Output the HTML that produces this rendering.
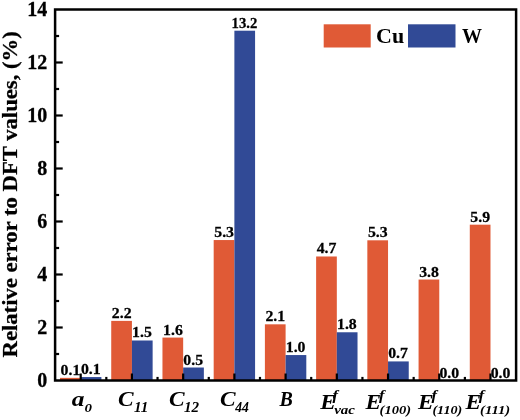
<!DOCTYPE html><html><head><meta charset="utf-8"><title>Relative error to DFT values</title>
<style>html,body{margin:0;padding:0;background:#fff}svg{display:block}text{font-family:"Liberation Serif","Times New Roman",serif;font-weight:bold;fill:#000}.v{font-size:14px;text-anchor:middle;stroke:#000;stroke-width:.25px}.yt{font-size:20px;text-anchor:end;stroke:#000;stroke-width:.3px}.xl{font-size:20px;font-style:italic}.sb{font-size:13px;font-style:italic}.sp{font-size:15px;font-style:italic}.lg{font-size:20px}.ti{font-size:20px;stroke:#000;stroke-width:.25px}.sd{font-size:14px;font-style:italic}</style></head><body>
<svg width="520" height="420" viewBox="0 0 520 420">
<rect x="0" y="0" width="520" height="420" fill="#fff"/>
<rect x="60.01" y="377.85" width="20.70" height="2.65" fill="#e05a36"/>
<rect x="80.71" y="377.06" width="20.70" height="3.45" fill="#314a96"/>
<rect x="111.23" y="320.88" width="20.70" height="59.62" fill="#e05a36"/>
<rect x="131.93" y="340.49" width="20.70" height="40.02" fill="#314a96"/>
<rect x="162.46" y="337.57" width="20.70" height="42.93" fill="#e05a36"/>
<rect x="183.16" y="367.51" width="20.70" height="12.98" fill="#314a96"/>
<rect x="213.68" y="240.05" width="20.70" height="140.45" fill="#e05a36"/>
<rect x="234.38" y="30.70" width="20.70" height="349.80" fill="#314a96"/>
<rect x="264.90" y="324.32" width="20.70" height="56.18" fill="#e05a36"/>
<rect x="285.60" y="355.06" width="20.70" height="25.44" fill="#314a96"/>
<rect x="316.12" y="256.48" width="20.70" height="124.02" fill="#e05a36"/>
<rect x="336.82" y="332.27" width="20.70" height="48.23" fill="#314a96"/>
<rect x="367.34" y="240.31" width="20.70" height="140.19" fill="#e05a36"/>
<rect x="388.04" y="361.42" width="20.70" height="19.08" fill="#314a96"/>
<rect x="418.57" y="279.53" width="20.70" height="100.97" fill="#e05a36"/>
<rect x="469.79" y="224.68" width="20.70" height="155.82" fill="#e05a36"/>
<text class="v" transform="translate(70.46,374.85) scale(1.13,1)">0.1</text>
<text class="v" transform="translate(90.76,374.06) scale(1.13,1)">0.1</text>
<text class="v" transform="translate(121.68,317.88) scale(1.13,1)">2.2</text>
<text class="v" transform="translate(141.98,337.49) scale(1.13,1)">1.5</text>
<text class="v" transform="translate(172.91,334.57) scale(1.13,1)">1.6</text>
<text class="v" transform="translate(193.21,364.51) scale(1.13,1)">0.5</text>
<text class="v" transform="translate(224.13,237.05) scale(1.13,1)">5.3</text>
<text class="v" transform="translate(244.43,28.00) scale(1.05,1)">13.2</text>
<text class="v" transform="translate(275.35,321.32) scale(1.13,1)">2.1</text>
<text class="v" transform="translate(295.65,352.06) scale(1.13,1)">1.0</text>
<text class="v" transform="translate(326.57,253.48) scale(1.13,1)">4.7</text>
<text class="v" transform="translate(346.87,329.27) scale(1.13,1)">1.8</text>
<text class="v" transform="translate(377.79,237.31) scale(1.13,1)">5.3</text>
<text class="v" transform="translate(398.09,358.42) scale(1.13,1)">0.7</text>
<text class="v" transform="translate(429.02,276.53) scale(1.13,1)">3.8</text>
<text class="v" transform="translate(449.32,377.50) scale(1.13,1)">0.0</text>
<text class="v" transform="translate(480.24,221.68) scale(1.13,1)">5.9</text>
<text class="v" transform="translate(500.54,377.50) scale(1.13,1)">0.0</text>
<rect x="55.10" y="9.50" width="461.00" height="371.00" fill="none" stroke="#000" stroke-width="2.5"/>
<text class="yt" x="47.30" y="386.90">0</text>
<line x1="55.10" y1="354.00" x2="59.10" y2="354.00" stroke="#000" stroke-width="2.2"/>
<line x1="55.10" y1="327.50" x2="62.70" y2="327.50" stroke="#000" stroke-width="2.2"/>
<text class="yt" x="47.30" y="333.90">2</text>
<line x1="55.10" y1="301.00" x2="59.10" y2="301.00" stroke="#000" stroke-width="2.2"/>
<line x1="55.10" y1="274.50" x2="62.70" y2="274.50" stroke="#000" stroke-width="2.2"/>
<text class="yt" x="47.30" y="280.90">4</text>
<line x1="55.10" y1="248.00" x2="59.10" y2="248.00" stroke="#000" stroke-width="2.2"/>
<line x1="55.10" y1="221.50" x2="62.70" y2="221.50" stroke="#000" stroke-width="2.2"/>
<text class="yt" x="47.30" y="227.90">6</text>
<line x1="55.10" y1="195.00" x2="59.10" y2="195.00" stroke="#000" stroke-width="2.2"/>
<line x1="55.10" y1="168.50" x2="62.70" y2="168.50" stroke="#000" stroke-width="2.2"/>
<text class="yt" x="47.30" y="174.90">8</text>
<line x1="55.10" y1="142.00" x2="59.10" y2="142.00" stroke="#000" stroke-width="2.2"/>
<line x1="55.10" y1="115.50" x2="62.70" y2="115.50" stroke="#000" stroke-width="2.2"/>
<text class="yt" x="47.30" y="121.90">10</text>
<line x1="55.10" y1="89.00" x2="59.10" y2="89.00" stroke="#000" stroke-width="2.2"/>
<line x1="55.10" y1="62.50" x2="62.70" y2="62.50" stroke="#000" stroke-width="2.2"/>
<text class="yt" x="47.30" y="68.90">12</text>
<line x1="55.10" y1="36.00" x2="59.10" y2="36.00" stroke="#000" stroke-width="2.2"/>
<text class="yt" x="47.30" y="15.90">14</text>
<line x1="80.71" y1="380.50" x2="80.71" y2="373.50" stroke="#000" stroke-width="2.2"/>
<line x1="131.93" y1="380.50" x2="131.93" y2="373.50" stroke="#000" stroke-width="2.2"/>
<line x1="106.32" y1="380.50" x2="106.32" y2="376.90" stroke="#000" stroke-width="2.2"/>
<line x1="183.16" y1="380.50" x2="183.16" y2="373.50" stroke="#000" stroke-width="2.2"/>
<line x1="157.54" y1="380.50" x2="157.54" y2="376.90" stroke="#000" stroke-width="2.2"/>
<line x1="234.38" y1="380.50" x2="234.38" y2="373.50" stroke="#000" stroke-width="2.2"/>
<line x1="208.77" y1="380.50" x2="208.77" y2="376.90" stroke="#000" stroke-width="2.2"/>
<line x1="285.60" y1="380.50" x2="285.60" y2="373.50" stroke="#000" stroke-width="2.2"/>
<line x1="259.99" y1="380.50" x2="259.99" y2="376.90" stroke="#000" stroke-width="2.2"/>
<line x1="336.82" y1="380.50" x2="336.82" y2="373.50" stroke="#000" stroke-width="2.2"/>
<line x1="311.21" y1="380.50" x2="311.21" y2="376.90" stroke="#000" stroke-width="2.2"/>
<line x1="388.04" y1="380.50" x2="388.04" y2="373.50" stroke="#000" stroke-width="2.2"/>
<line x1="362.43" y1="380.50" x2="362.43" y2="376.90" stroke="#000" stroke-width="2.2"/>
<line x1="439.27" y1="380.50" x2="439.27" y2="373.50" stroke="#000" stroke-width="2.2"/>
<line x1="413.66" y1="380.50" x2="413.66" y2="376.90" stroke="#000" stroke-width="2.2"/>
<line x1="490.49" y1="380.50" x2="490.49" y2="373.50" stroke="#000" stroke-width="2.2"/>
<line x1="464.88" y1="380.50" x2="464.88" y2="376.90" stroke="#000" stroke-width="2.2"/>
<text class="ti" transform="translate(16.8,357.5) rotate(-90) scale(1.135,1)">Relative error to DFT values, (%)</text>
<rect x="323.7" y="24.3" width="47" height="23.2" fill="#e05a36"/>
<text class="lg" transform="translate(376.00,43.00) scale(1.1,1)">Cu</text>
<rect x="408" y="24.3" width="47.5" height="23.2" fill="#314a96"/>
<text class="lg" x="462.00" y="43.00">W</text>
<text class="xl" transform="translate(71.80,406.30) scale(1.27,1)">a</text>
<text class="sb" transform="translate(84.60,411.80) scale(1.15,1)">0</text>
<text class="xl" transform="translate(118.00,406.30) scale(1.17,1)">C</text>
<text class="sd" transform="translate(134.00,412.00) scale(1.08,1)">11</text>
<text class="xl" transform="translate(169.00,406.30) scale(1.17,1)">C</text>
<text class="sd" transform="translate(184.00,412.00) scale(1.08,1)">12</text>
<text class="xl" transform="translate(220.10,406.30) scale(1.17,1)">C</text>
<text class="sd" transform="translate(235.20,412.00) scale(0.98,1)">44</text>
<text class="xl" x="279.60" y="405.80">B</text>
<text class="xl" transform="translate(320.30,408.50) scale(1.17,1)">E</text>
<text class="sb" transform="translate(334.20,413.60) scale(1.15,1)">vac</text>
<text class="sp" transform="translate(332.60,399.80) scale(1.1,1)">f</text>
<text class="xl" transform="translate(365.60,408.50) scale(1.17,1)">E</text>
<text class="sb" transform="translate(379.60,414.00) scale(1.12,1)">(100)</text>
<text class="sp" transform="translate(379.00,399.80) scale(1.1,1)">f</text>
<text class="xl" transform="translate(418.00,408.50) scale(1.17,1)">E</text>
<text class="sb" transform="translate(432.40,414.00) scale(1.09,1)">(110)</text>
<text class="sp" transform="translate(431.40,399.80) scale(1.1,1)">f</text>
<text class="xl" transform="translate(465.40,408.50) scale(1.17,1)">E</text>
<text class="sb" transform="translate(480.00,414.00) scale(1.13,1)">(111)</text>
<text class="sp" transform="translate(478.80,399.80) scale(1.1,1)">f</text>
</svg></body></html>
